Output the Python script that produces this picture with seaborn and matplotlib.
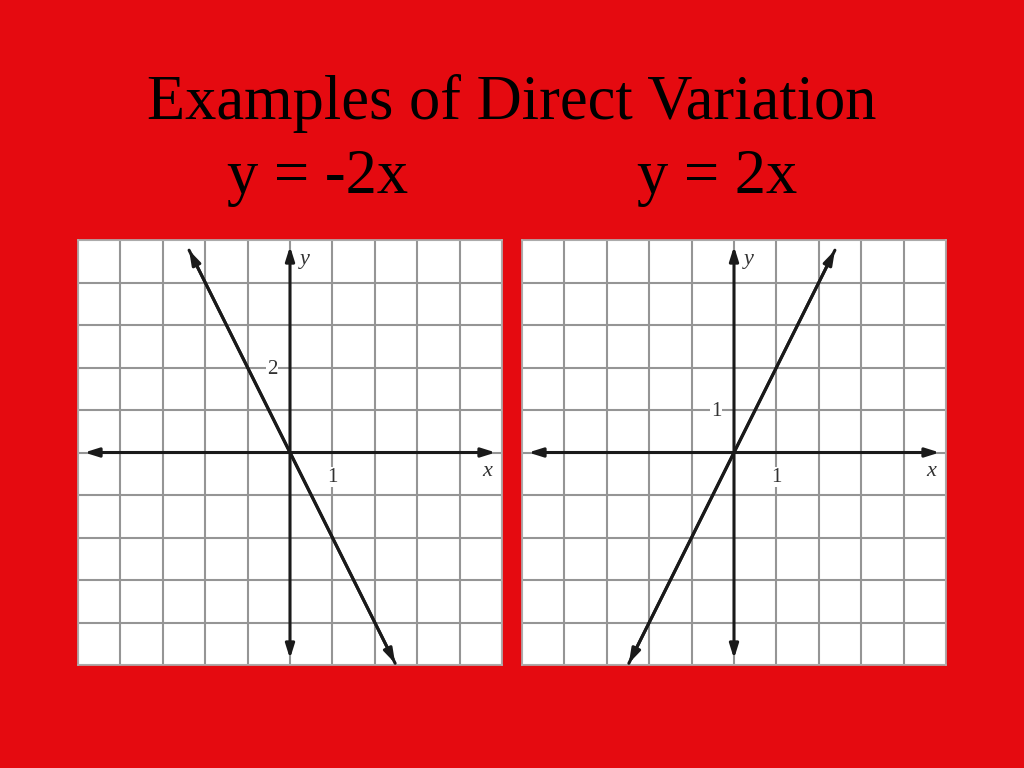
import numpy as np
import pandas as pd
import matplotlib
matplotlib.use("Agg")
import matplotlib.pyplot as plt
import seaborn as sns

# ---- data ----
titles = ["y = -2x", "y = 2x"]
slopes = [-2, 2]
x_ends_left = [-2.38, 2.48]     # x where the drawn line ends (arrow tips)
x_ends_right = [-2.48, 2.38]
y_label_value = [2, 1]          # labelled tick on the y axis
x_label_value = [1, 1]          # labelled tick on the x axis
grid_range = [-5, 5]

BG = "#E50A10"
sns.set_theme(style="white")
plt.rcParams["font.family"] = ["Liberation Serif", "DejaVu Serif"]

fig = plt.figure(figsize=(10.24, 7.68), dpi=100, facecolor=BG)

fig.text(0.5, 1 - 119 / 768, "Examples of Direct Variation", ha="center", va="baseline",
         fontsize=45, color="black")
fig.text(0.3105, 1 - 193 / 768, titles[0], ha="center", va="baseline", fontsize=45, color="black")
fig.text(0.7000, 1 - 193 / 768, titles[1], ha="center", va="baseline", fontsize=45, color="black")

panels = [
    (78 / 1024, x_ends_left),
    (522 / 1024, x_ends_right),
]
for i, (left, ends) in enumerate(panels):
    ax = fig.add_axes([left, 103 / 768, 424 / 1024, 425 / 768])
    ax.set_facecolor("white")
    lo, hi = grid_range
    ax.set_xlim(lo, hi)
    ax.set_ylim(lo, hi)
    ax.set_xticks(np.arange(lo, hi + 1, 1))
    ax.set_yticks(np.arange(lo, hi + 1, 1))
    ax.grid(True, color="#959595", linewidth=1.5)
    ax.tick_params(length=0, labelbottom=False, labelleft=False)
    for s in ax.spines.values():
        s.set_color("#b0b0b0")
        s.set_linewidth(1.2)

    # coordinate axes with arrowheads
    arrow_kw = dict(arrowstyle="<|-|>,head_length=0.7,head_width=0.22",
                    color="#1a1a1a", lw=2.2, shrinkA=0, shrinkB=0)
    ax.annotate("", xy=(4.85, 0), xytext=(-4.85, 0), arrowprops=arrow_kw, zorder=4)
    ax.annotate("", xy=(0, 4.85), xytext=(0, -4.85), arrowprops=arrow_kw, zorder=4)

    # the direct-variation line
    xs = np.array(ends, dtype=float)
    ys = slopes[i] * xs
    df = pd.DataFrame({"x": xs, "y": ys})
    sns.lineplot(data=df, x="x", y="y", ax=ax, color="#1a1a1a", linewidth=2.2,
                 zorder=5, sort=True)
    line_kw = dict(arrowstyle="<|-|>,head_length=0.7,head_width=0.22",
                   color="#1a1a1a", lw=2.2, shrinkA=0, shrinkB=0)
    ax.annotate("", xy=(df.x.iloc[1], df.y.iloc[1]), xytext=(df.x.iloc[0], df.y.iloc[0]),
                arrowprops=line_kw, zorder=5)
    ax.set_xlabel("")
    ax.set_ylabel("")

    # labels
    ax.text(-0.42, y_label_value[i] - 0.04, str(y_label_value[i]), ha="center", va="center",
            fontsize=15, color="#333333", zorder=6,
            bbox=dict(facecolor="white", edgecolor="none", pad=0.5))
    ax.text(x_label_value[i], -0.58, str(x_label_value[i]), ha="center", va="center",
            fontsize=15, color="#333333", zorder=6,
            bbox=dict(facecolor="white", edgecolor="none", pad=0.5))
    ax.text(0.35, 4.55, "y", ha="center", va="center", fontsize=16, style="italic",
            color="#333333", zorder=6)
    ax.text(4.65, -0.45, "x", ha="center", va="center", fontsize=16, style="italic",
            color="#333333", zorder=6)

fig.savefig("out.png", dpi=100, facecolor=BG)
